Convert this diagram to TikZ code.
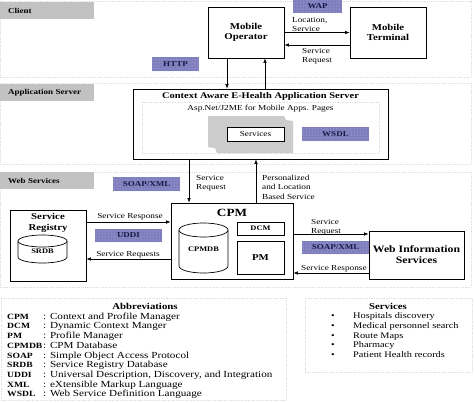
\documentclass[tikz,border=0pt]{standalone}
\usepackage{fontspec}
\setmainfont{Liberation Serif}[FakeStretch=1.2]
\usetikzlibrary{arrows.meta,shapes.geometric,patterns,positioning}
\definecolor{protoblue}{RGB}{126,126,190}
\definecolor{protoink}{RGB}{25,25,70}
\definecolor{lanegray}{RGB}{194,194,194}
\definecolor{pagegray}{RGB}{204,204,204}
\definecolor{bandline}{RGB}{222,222,222}
\newcommand{\abbr}[2]{\makebox[36pt][l]{\textbf{#1}}{\fontsize{9.3}{9.7}\selectfont: #2}}
\newcommand{\svc}[1]{\makebox[22pt][l]{\textbullet}#1}
\tikzset{
  blk/.style={draw, line width=0.7pt, fill=white, align=center, font=\fontsize{9}{10.5}\selectfont\bfseries},
  proto/.style={fill=protoblue, postaction={pattern=dots, pattern color=white!55!protoblue}, text=protoink, inner sep=0pt, font=\fontsize{7.5}{9}\selectfont\bfseries},
  lanelbl/.style={fill=lanegray, anchor=north west, text width=78pt, inner xsep=8pt, minimum height=17pt, font=\fontsize{7.5}{9}\selectfont\bfseries},
  lane/.style={draw=bandline, densely dotted, line width=0.8pt},
  dotbox/.style={draw=bandline, densely dotted, line width=0.7pt, inner sep=0pt},
  lbl/.style={align=left, inner sep=0pt, font=\fontsize{7.7}{9.3}\selectfont},
  arr/.style={-{Latex[length=4.5pt,width=3.5pt]}, line width=0.6pt},
  cyl/.style={line width=0.7pt, fill=white},
  dblbl/.style={inner sep=0pt, font=\fontsize{7}{8}\selectfont\bfseries},
}
\begin{document}
\begin{tikzpicture}[x=1pt, y=-1pt]
  \useasboundingbox (0,0) rectangle (474,402);
  \draw[lane] (0,1) rectangle (471,77);
  \draw[lane] (0,83) rectangle (471,164);
  \draw[lane] (0,172) rectangle (471,287);
  \node[lanelbl] (client) at (0,2) {Client};
  \node[lanelbl] (appl) at (0,84) {Application Server};
  \node[lanelbl] (webl) at (0,172) {Web Services};

  \node[blk, minimum width=76pt, minimum height=51pt] (mo) at (246,32.5) {Mobile\\Operator};
  \node[blk, minimum width=76pt, minimum height=51pt] (mt) at (388,32.5) {Mobile\\Terminal};
  \node[proto, minimum width=49pt, minimum height=13pt] (wap) at (317.5,6.5) {WAP};
  \node[proto, minimum width=47pt, minimum height=14pt] (http) at (175.5,64) {HTTP};
  \draw[arr] (mo.east) -- (mt.west);
  \draw[arr] ([yshift=-12.5pt]mt.west) -- ([yshift=-12.5pt]mo.east);
  \node[lbl, anchor=west] (locsvc) at (292,24.5) {Location,\\Service};
  \node[lbl, anchor=west] (svcreq) at (302,56.5) {Service\\Request};

  \node[blk, minimum width=255pt, minimum height=70pt] (app) at (260.5,124) {};
  \node[font=\fontsize{8.7}{10}\selectfont\bfseries] (apptitle) at (260.5,96.5) {Context Aware E-Health Application Server};
  \node[dotbox, minimum width=237pt, minimum height=51pt] (pages) at (260.5,127.5) {};
  \node[lbl] (asp) at (260.5,109) {Asp.Net/J2ME for Mobile Apps. Pages};
  \fill[pagegray] (208,116) -- (284,116) -- (286,120) -- (293,121) -- (293,153) -- (217,153) -- (215,148) -- (208,147) -- cycle;
  \node[draw, line width=0.7pt, fill=white, minimum width=57pt, minimum height=14pt, inner sep=0pt, font=\fontsize{7.7}{9}\selectfont] (svcs) at (255.5,134) {Services};
  \node[proto, minimum width=67pt, minimum height=14pt] (wsdl) at (335.5,134) {WSDL};
  \draw[arr] ([xshift=-19pt]mo.south) -- ([xshift=-19pt]mo.south |- app.north);
  \draw[arr] ([xshift=19pt]mo.south |- app.north) -- ([xshift=19pt]mo.south);

  \node[blk, minimum width=122pt, minimum height=76pt] (cpm) at (232,241) {};
  \node[font=\fontsize{11}{12}\selectfont\bfseries] (cpmtitle) at (232,213) {CPM};
  \draw[cyl] (179,230) -- (179,266) arc[start angle=180, end angle=360, x radius=24.5pt, y radius=7pt] -- (228,230);
  \draw[cyl] (203.5,230) ellipse [x radius=24.5pt, y radius=7pt];
  \node[dblbl] (cpmdb) at (203.5,249) {CPMDB};
  \node[blk, minimum width=47pt, minimum height=13pt, inner sep=0pt, font=\fontsize{7}{8}\selectfont\bfseries] (dcm) at (260.5,228.5) {DCM};
  \node[blk, minimum width=47pt, minimum height=33pt, inner sep=0pt, font=\fontsize{9}{10}\selectfont\bfseries] (pm) at (260.5,257.5) {PM};
  \node[proto, minimum width=67pt, minimum height=14pt] (soap1) at (146.5,184) {SOAP/XML};
  \draw[arr] ([xshift=-43pt]cpm.north |- app.south) -- ([xshift=-43pt]cpm.north);
  \draw[arr] ([xshift=24pt]cpm.north) -- ([xshift=24pt]cpm.north |- app.south);
  \node[lbl, anchor=north west] (cpmreq) at (196,175) {Service\\Request};
  \node[lbl, anchor=north west] (perso) at (262,175) {Personalized\\and Location\\Based Service};

  \node[blk, minimum width=76pt, minimum height=71pt] (reg) at (48,245.5) {};
  \node[font=\fontsize{9}{10.5}\selectfont\bfseries, align=center] (regtitle) at (48,223) {Service\\Registry};
  \draw[cyl] (18,241) -- (18,257) arc[start angle=180, end angle=360, x radius=24.5pt, y radius=6pt] -- (67,241);
  \draw[cyl] (42.5,241) ellipse [x radius=24.5pt, y radius=6pt];
  \node[dblbl] (srdb) at (42.5,251) {SRDB};
  \node[proto, minimum width=67pt, minimum height=13pt] (uddi) at (128.5,235.5) {UDDI};
  \draw[arr] ([yshift=23.5pt]reg.east) -- ([yshift=23.5pt]reg.east -| cpm.west);
  \draw[arr] ([yshift=-13.5pt]reg.east -| cpm.west) -- ([yshift=-13.5pt]reg.east);
  \node[lbl, anchor=base] (regresp) at (130,218) {Service Response};
  \node[lbl, anchor=base] (regreq) at (128,256) {Service Requests};

  \node[blk, minimum width=95pt, minimum height=48pt, font=\fontsize{9.8}{11}\selectfont\bfseries] (wis) at (416.5,255) {Web Information\\Services};
  \node[proto, minimum width=67pt, minimum height=13pt] (soap2) at (335.5,247.5) {SOAP/XML};
  \draw[arr] ([yshift=21pt]wis.west -| cpm.east) -- ([yshift=21pt]wis.west);
  \draw[arr] ([yshift=-18pt]wis.west) -- ([yshift=-18pt]wis.west -| cpm.east);
  \node[lbl, anchor=west] (wisreq) at (311,227) {Service\\Request};
  \node[lbl, anchor=base west] (wisresp) at (301,270) {Service Response};

  \node[dotbox, minimum width=285pt, minimum height=102pt] (abbrbox) at (143.5,349) {};
  \node[font=\fontsize{9}{10}\selectfont\bfseries] (abbrtitle) at (145,306) {Abbreviations};
  \node[lbl, anchor=north west, font=\fontsize{8}{9.7}\selectfont] (abbrlist) at (7,312.5) {%
    \abbr{CPM}{Context and Profile Manager}\\
    \abbr{DCM}{Dynamic Context Manger}\\
    \abbr{PM}{Profile Manager}\\
    \abbr{CPMDB}{CPM Database}\\
    \abbr{SOAP}{Simple Object Access Protocol}\\
    \abbr{SRDB}{Service Registry Database}\\
    \abbr{UDDI}{Universal Description, Discovery, and Integration}\\
    \abbr{XML}{eXtensible Markup Language}\\
    \abbr{WSDL}{Web Service Definition Language}};

  \node[dotbox, minimum width=167pt, minimum height=74pt] (svcbox) at (388.5,335) {};
  \node[font=\fontsize{9}{10}\selectfont\bfseries] (svctitle) at (388,306) {Services};
  \node[lbl, anchor=north west, font=\fontsize{8.6}{9.7}\selectfont] (svclist) at (331,312.5) {%
    \svc{Hospitals discovery}\\
    \svc{Medical personnel search}\\
    \svc{Route Maps}\\
    \svc{Pharmacy}\\
    \svc{Patient Health records}};
\end{tikzpicture}
\end{document}
